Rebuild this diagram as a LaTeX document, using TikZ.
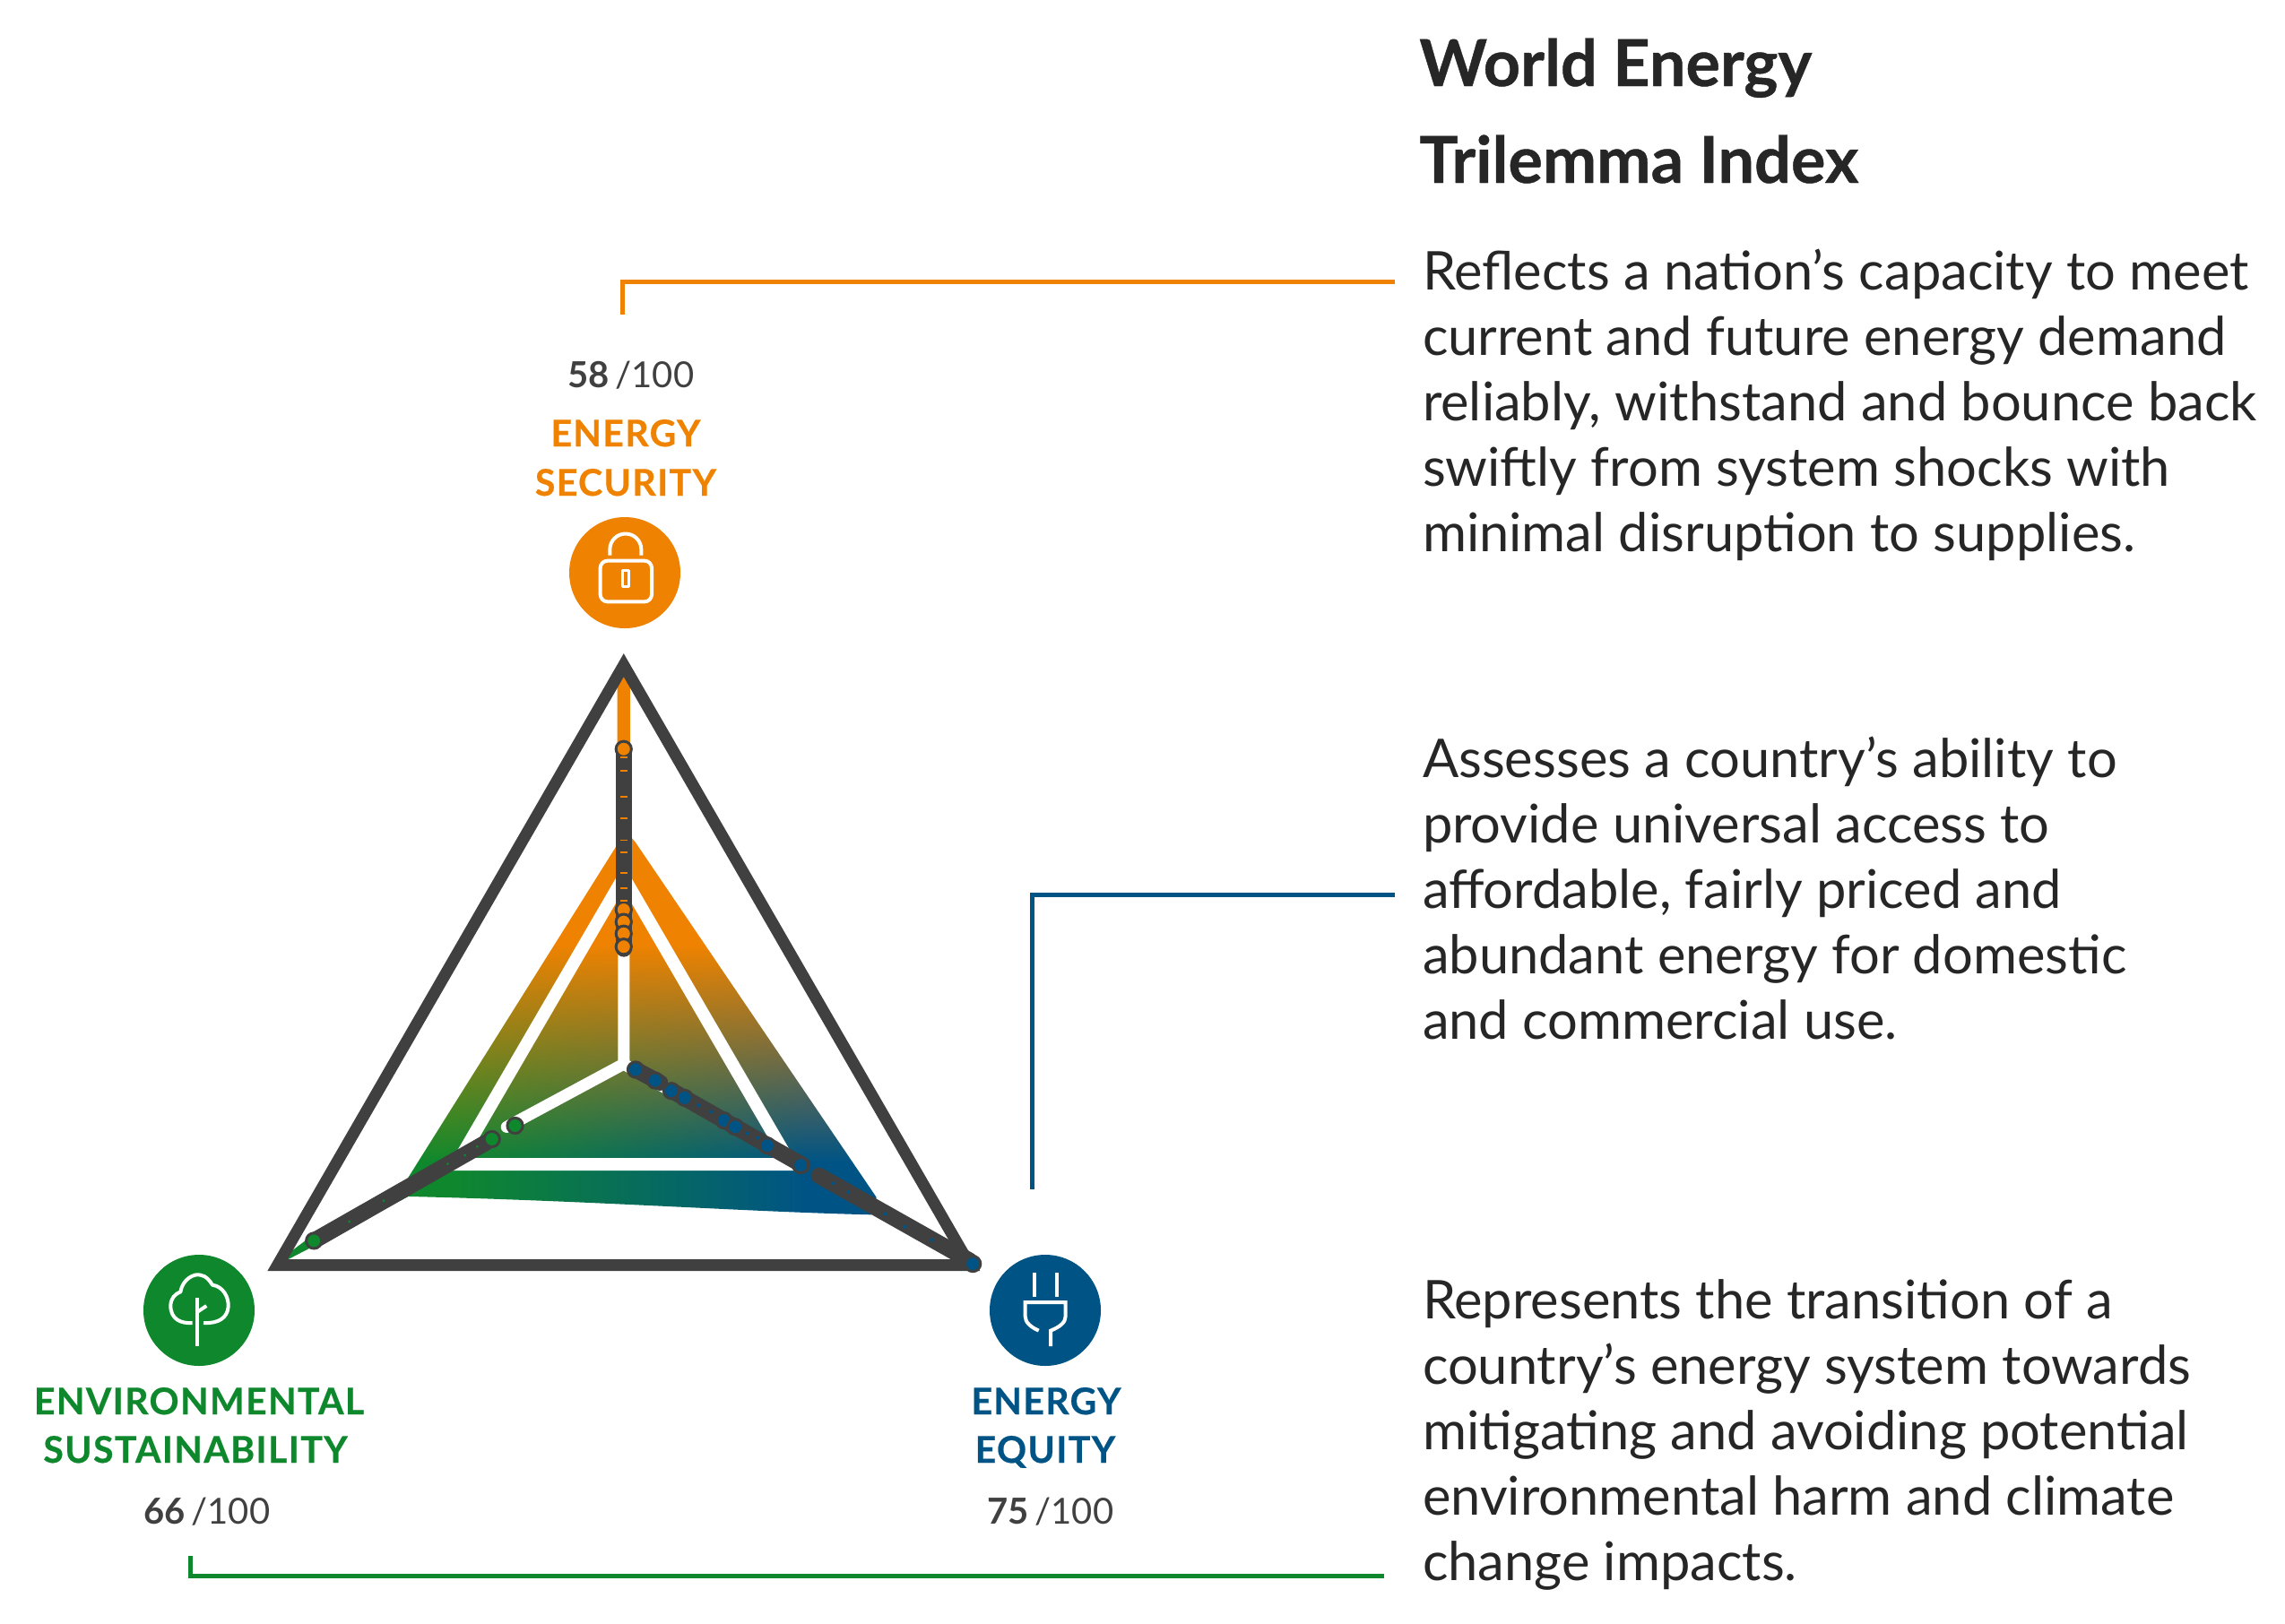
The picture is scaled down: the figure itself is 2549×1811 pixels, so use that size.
\documentclass[tikz,border=0pt]{standalone}
\usepackage{fontspec}
\setmainfont{Lato}
\newfontfamily\heavyf[BoldFeatures={FakeBold=0.6}]{Lato}
\newfontfamily\capsf[BoldFeatures={FakeBold=0.5,LetterSpace=3.3}]{Lato}
\definecolor{wOrange}{HTML}{EF8200}
\definecolor{wGreen}{HTML}{0F882D}
\definecolor{wBlue}{HTML}{005485}
\definecolor{wDark}{HTML}{404040}
\definecolor{wText}{HTML}{262626}
\newcommand{\chan}[3]{1 index 1 index #3 #2 sub mul #2 add dup #1 exch sub 3 -1 roll mul add }
\pgfdeclarefunctionalshading{trimix}{\pgfpointorigin}{\pgfpoint{100bp}{100bp}}{}{
  33.8 sub 17.6 div dup 0 lt {pop 0} if dup 1 gt {pop 1} if
  exch 38 sub 25 div dup 0 lt {pop 0} if dup 1 gt {pop 1} if
  \chan{0.937}{0.059}{0.0} 3 1 roll
  \chan{0.510}{0.533}{0.329} 3 1 roll
  \chan{0.0}{0.176}{0.522} 3 1 roll pop pop
}
\tikzset{
  x=0.5pt,y=-0.5pt,
  para/.style={anchor=north west,align=left,inner sep=0pt,outer sep=0pt,text=wText,font=\fontsize{29.8}{36.5}\selectfont},
  titletext/.style={anchor=base west,inner sep=0pt,text=wText,font=\fontsize{36}{40}\selectfont\heavyf\bfseries},
  capslabel/.style={anchor=base,inner sep=0pt,font=\fontsize{20.5}{24}\selectfont\capsf\bfseries},
  scorelabel/.style={anchor=base,inner sep=0pt,text=wDark,font=\fontsize{20}{24}\selectfont},
  leader/.style={line width=2.5pt,line join=miter},
  badge/.style={circle,minimum size=62pt,inner sep=0pt,outer sep=0pt,fill=#1},
  glyph/.style={draw=white,line width=2pt,line cap=butt,line join=round},
  axisdark/.style={draw=wDark,line width=9pt,line cap=round},
  dotmark/.style={circle,minimum size=8.6pt,inner sep=0pt,draw=wDark,line width=1.5pt,fill=#1},
}
\begin{document}
\begin{tikzpicture}
\useasboundingbox (0,0) rectangle (2549,1811);

% coloured field and white radar lines, in zoom units
\begin{scope}[shift={(280,700)},xscale=0.5485,yscale=0.4847]
  \begin{scope}
    \clip (745,95) -- (771,95) -- (771,480) -- (782,495) -- (1272,1312) -- (1262,1352)
      .. controls (1000,1345) and (700,1320) .. (320,1310)
      -- (135,1420) -- (70,1458) -- (60,1455) -- (130,1395) -- (315,1275) -- (745,500) -- cycle;
    \shade[shading=trimix] (20,60) rectangle (1480,1480);
  \end{scope}
  \draw[white,line width=7pt,line join=miter] (758,575) -- (1098,1236) -- (418,1236) -- cycle;
  \draw[white,line width=6.5pt,line cap=round] (758,740) -- (758,1005) -- (520,1150);
  \draw[white,line width=6.5pt] (758,1005) -- (1120,1240);
  % outer triangle
  \coordinate (apexT) at (758,87);
  \coordinate (apexL) at (54,1468);
  \coordinate (apexR) at (1462,1468);
  \draw[wDark,line width=6.5pt,line join=miter] (apexT) -- (apexR) -- (apexL) -- cycle;
  % axes
  \draw[axisdark] (758,280) -- (758,740);
  \draw[axisdark] (782,1018) -- (832,1048);
  \draw[axisdark] (858,1068) -- (1122,1238);
  \draw[axisdark] (1155,1262) -- (1462,1458);
  \draw[axisdark] (478,1186) -- (128,1412);
  % markers
  \foreach \n/\a/\b in {t1/758/280,t2/758/650,t3/758/678,t4/758/705,t5/758/735}
    \node[dotmark=wOrange] (\n) at (\a,\b) {};
  \foreach \n/\a/\b in {b1/782/1018,b2/822/1043,b3/855/1067,b4/882/1083,b5/962/1135,b6/985/1150,b7/1050/1193,b8/1118/1238,b9/1468/1465}
    \node[dotmark=wBlue] (\n) at (\a,\b) {};
  \foreach \n/\a/\b in {g1/537/1147,g2/490/1178,g3/128/1412}
    \node[dotmark=wGreen] (\n) at (\a,\b) {};
  \foreach \a/\b in {758/300,758/330,758/390,758/440,758/490,758/517,758/565,758/600,758/630}
    \fill[wOrange] (\a-7,\b-2) rectangle (\a+7,\b+2);
  \foreach \a/\b in {910/1100,935/1115,1010/1165,1030/1175,1185/1280,1215/1300,1290/1350,1330/1380,1385/1410}
    \fill[wBlue] (\a,\b) circle[radius=4];
  \foreach \a/\b in {460/1195,435/1215,400/1235,200/1368,270/1320}
    \fill[wGreen] (\a,\b) circle[radius=3];
\end{scope}

% badges
\node[badge=wOrange] (lockB) at (697,639) {};
\node[badge=wGreen] (treeB) at (222,1462) {};
\node[badge=wBlue] (plugB) at (1166,1462) {};
\begin{scope}[shift={(697,639)},scale=0.3333]
  \draw[glyph,rounded corners=4pt] (-82,-40) rectangle (90,97);
  \draw[glyph] (-50,-58) -- (-50,-78) arc[start angle=180,end angle=360,radius=52.5] -- (55,-58);
  \draw[glyph,line width=1.5pt] (-8,-8) rectangle (13,47);
\end{scope}
\begin{scope}[shift={(222,1462)},scale=0.3333]
  \draw[glyph] (-22,42) .. controls (-60,45) and (-95,30) .. (-95,-15)
     .. controls (-95,-40) and (-80,-55) .. (-62,-62)
     .. controls (-55,-105) and (-15,-125) .. (5,-118)
     .. controls (25,-115) and (35,-100) .. (45,-85)
     .. controls (80,-80) and (100,-45) .. (98,-12)
     .. controls (95,25) and (65,45) .. (15,42);
  \draw[glyph] (-5,-42) -- (-5,120);
  \draw[glyph] (-5,5) -- (25,-15);
\end{scope}
\begin{scope}[shift={(1166,1462)},scale=0.3333]
  \draw[glyph] (-37,-125) -- (-37,-45);
  \draw[glyph] (38,-125) -- (38,-45);
  \draw[glyph,line join=miter] (-22,68) .. controls (-50,55) and (-67,40) .. (-67,20) -- (-67,-27) -- (68,-27) -- (68,20) .. controls (68,40) and (50,55) .. (18,68) -- (18,120);
\end{scope}

% leaders
\coordinate (oA) at (694,351); \coordinate (oB) at (694,314); \coordinate (oC) at (1556,314);
\coordinate (bA) at (1151,1327); \coordinate (bB) at (1151,998); \coordinate (bC) at (1556,998);
\coordinate (gA) at (212,1736); \coordinate (gB) at (212,1758); \coordinate (gC) at (1544,1758);
\draw[leader,wOrange] (oA) -- (oB) -- (oC);
\draw[leader,wBlue] (bA) -- (bB) -- (bC);
\draw[leader,wGreen] (gA) -- (gB) -- (gC);

% labels
\node[scorelabel] (s58) at (704,432) {\textbf{58}\,/100};
\node[capslabel,text=wOrange] (ce1) at (698,498) {ENERGY};
\node[capslabel,text=wOrange] (ce2) at (698,553) {SECURITY};
\node[capslabel,text=wGreen] (ce3) at (222,1578) {ENVIRONMENTAL};
\node[capslabel,text=wGreen] (ce4) at (218,1632) {SUSTAINABILITY};
\node[scorelabel] (s66) at (231,1700) {\textbf{66}\,/100};
\node[capslabel,text=wBlue] (ce5) at (1167,1578) {ENERGY};
\node[capslabel,text=wBlue] (ce6) at (1166,1632) {EQUITY};
\node[scorelabel] (s75) at (1172,1700) {\textbf{75}\,/100};

% right column
\node[titletext] (ti1) at (1583,96) {World Energy};
\node[titletext] (ti2) at (1583,204) {Trilemma Index};
\node[para] (p1) at (1587,278) {Reflects a nation’s capacity to meet\\current and future energy demand\\reliably, withstand and bounce back\\swiftly from system shocks with\\minimal disruption to supplies.};
\node[para] (p2) at (1587,822) {Assesses a country’s ability to\\provide universal access to\\affordable, fairly priced and\\abundant energy for domestic\\and commercial use.};
\node[para] (p3) at (1587,1428) {Represents the transition of a\\country’s energy system towards\\mitigating and avoiding potential\\environmental harm and climate\\change impacts.};
\end{tikzpicture}
\end{document}
